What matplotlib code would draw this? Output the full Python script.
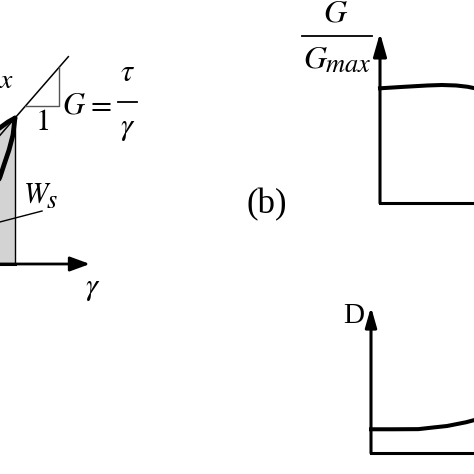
import matplotlib
matplotlib.use("Agg")
import matplotlib.pyplot as plt

plt.rcParams["mathtext.fontset"] = "stix"
plt.rcParams["font.family"] = ["Liberation Serif", "DejaVu Serif"]

# (a) hysteresis loop near its tip, normalised by gamma_max / tau_max
loop_up_gamma = [0.80, 0.88, 0.945, 1.0]
loop_up_tau = [0.877, 0.932, 0.973, 1.0]
loop_lo_gamma = [1.0, 0.993, 0.984, 0.953, 0.913, 0.882, 0.80]
loop_lo_tau = [1.0, 0.95, 0.884, 0.781, 0.678, 0.596, 0.438]
secant_gamma = [0.0, 1.42]
secant_tau = [0.0, 1.42]
slope_tri_gamma = [1.08, 1.346, 1.346]
slope_tri_tau = [1.08, 1.08, 1.346]

# (b) modulus reduction and damping vs shear strain
strain_g = [1e-6, 3e-6, 1e-5, 2e-5, 4e-5, 7e-5, 1e-4, 1.5e-4]
g_ratio = [0.972, 0.984, 0.996, 1.0, 0.996, 0.985, 0.972, 0.958]
strain_d = [1e-6, 3e-6, 1e-5, 2e-5, 4e-5, 1e-4, 2e-4]
damping = [3.25, 3.25, 3.27, 3.49, 3.70, 4.21, 4.73]

W, H = 474, 474
fig = plt.figure(figsize=(4.74, 4.74), dpi=100)
fig.patch.set_facecolor("white")


def frac(x0, y0, w, h):
    # pixel box (top-left origin) -> figure fraction rect
    return [x0 / W, (H - y0 - h) / H, w / W, h / H]


arrow = "-|>,head_length=0.6,head_width=0.22"

# ---- panel (a)
ax_a = fig.add_axes([0, 0, 1, 1])
ax_a.set_xlim(112 / 127, 586 / 127)
ax_a.set_ylim(-210 / 146, 264 / 146)
ax_a.axis("off")

ax_a.fill_between(loop_up_gamma, 0, loop_up_tau, color="#d3d3d3", lw=0)
ax_a.plot(secant_gamma, secant_tau, color="k", lw=1.1)
ax_a.plot(slope_tri_gamma, slope_tri_tau, color="#555555", lw=1.0)
ax_a.plot([1.0, 1.0], [0, 1.0], color="k", lw=1.0)
ax_a.plot(loop_up_gamma, loop_up_tau, color="k", lw=3.4, solid_capstyle="round")
ax_a.plot(loop_lo_gamma, loop_lo_tau, color="k", lw=3.4, solid_capstyle="round")
ax_a.plot([0.85, 1.0], [0, 0], color="k", lw=2.2)
ax_a.annotate("", xy=(1.59, 0), xytext=(0.85, 0),
              arrowprops=dict(arrowstyle=arrow, lw=2.0, color="k",
                              mutation_scale=20, shrinkA=0, shrinkB=0))
ax_a.plot([0.882, 1.213], [0.288, 0.363], color="k", lw=1.0)

# ---- panel (b) top: G/Gmax
ax_b = fig.add_axes(frac(380, 33, 190, 170))
ax_b.patch.set_visible(False)
ax_b.set_xscale("log")
ax_b.set_xlim(1e-6, 1e-2)
ax_b.set_ylim(0, 170 / 118)
ax_b.plot(strain_g, g_ratio, color="k", lw=2.9, clip_on=False)

# ---- panel (b) bottom: D
ax_c = fig.add_axes(frac(371, 307, 190, 146))
ax_c.patch.set_visible(False)
ax_c.set_xscale("log")
ax_c.set_xlim(1e-6, 1e-2)
ax_c.set_ylim(0, 20)
ax_c.plot(strain_d, damping, color="k", lw=2.9, clip_on=False)

for ax, ms in ((ax_b, 20), (ax_c, 17)):
    for s in ("top", "right", "left"):
        ax.spines[s].set_visible(False)
    ax.spines["bottom"].set_linewidth(2.2)
    ax.set_xticks([])
    ax.set_yticks([])
    ax.minorticks_off()
    ax.tick_params(which="both", length=0, labelbottom=False, labelleft=False)
    ax.annotate("", xy=(0, 1), xytext=(0, 0), xycoords="axes fraction",
                arrowprops=dict(arrowstyle="-|>,head_length=0.7,head_width=0.2",
                                lw=2.2, color="k", mutation_scale=ms,
                                shrinkA=0, shrinkB=0))

# ---- labels, pixel coordinates
ax_t = fig.add_axes([0, 0, 1, 1])
ax_t.patch.set_visible(False)
ax_t.set_xlim(0, W)
ax_t.set_ylim(H, 0)
ax_t.axis("off")

fs = 22
ax_t.text(14, 88, r"$max$", fontsize=20, ha="right", va="baseline")
ax_t.text(62, 113, r"$G$", fontsize=fs, ha="left", va="baseline")
ax_t.text(99, 105, r"$=$", fontsize=fs, ha="center", va="center")
ax_t.plot([118, 137], [102, 102], color="k", lw=1.3)
ax_t.text(128, 81, r"$\tau$", fontsize=fs, ha="center", va="baseline")
ax_t.text(128, 114, r"$\gamma$", fontsize=fs, ha="center", va="top")
ax_t.text(42, 122, r"$1$", fontsize=fs, ha="center", va="center")
ax_t.text(23, 202, r"$W$", fontsize=21, ha="left", va="baseline")
ax_t.text(46, 208, r"$s$", fontsize=19, ha="left", va="baseline")
ax_t.text(93, 274, r"$\gamma$", fontsize=fs, ha="center", va="top")

ax_t.text(336, 21, r"$G$", fontsize=fs + 1, ha="center", va="baseline")
ax_t.plot([302, 372], [36, 36], color="k", lw=1.3)
ax_t.text(303, 67, r"$G$", fontsize=fs + 1, ha="left", va="baseline")
ax_t.text(325, 72, r"$max$", fontsize=19, ha="left", va="baseline")

ax_t.text(267, 213, "(b)", fontsize=25, ha="center", va="baseline")
ax_t.text(354, 323, "D", fontsize=21, ha="center", va="baseline")

fig.savefig("out.png", dpi=100, facecolor="white")
